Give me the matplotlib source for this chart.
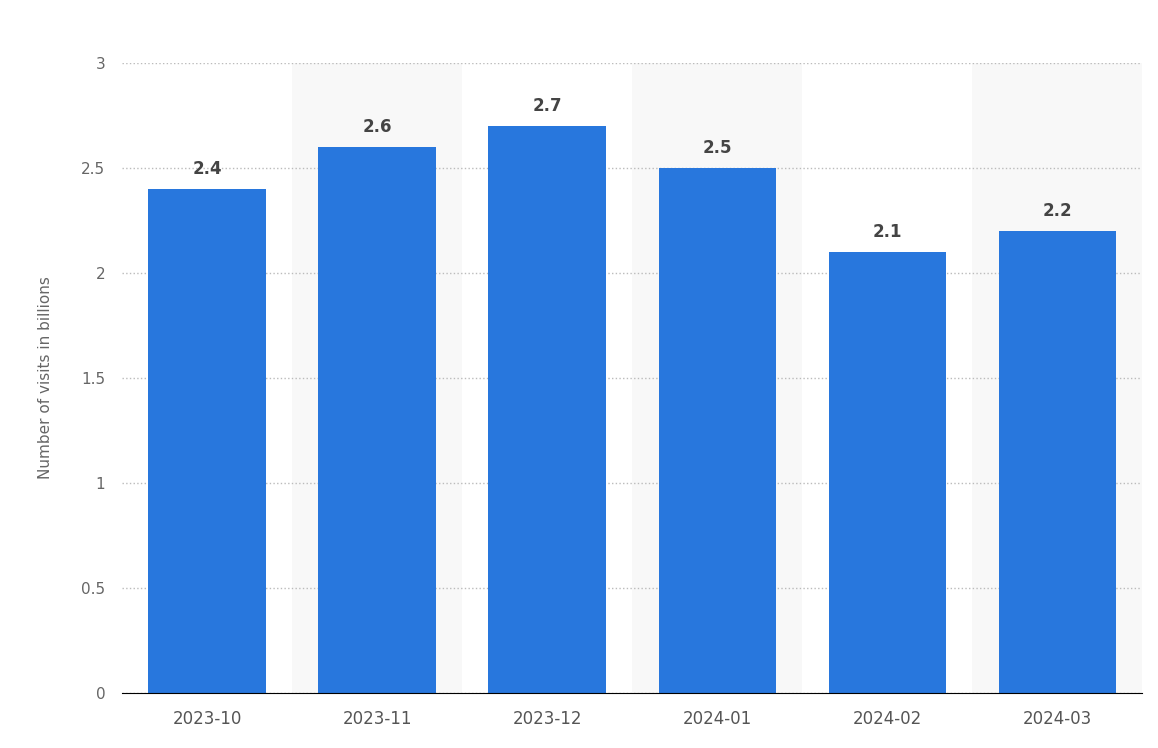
import matplotlib.pyplot as plt
import numpy as np

months = ['2023-10', '2023-11', '2023-12', '2024-01', '2024-02', '2024-03']
visits = [2.4, 2.6, 2.7, 2.5, 2.1, 2.2]
yticks = [0, 0.5, 1, 1.5, 2, 2.5, 3]
ytick_labels = ['0', '0.5', '1', '1.5', '2', '2.5', '3']

fig = plt.figure(figsize=(11.58, 7.48), dpi=100)
ax = fig.add_axes([0.1054, 0.0735, 0.881, 0.8423])

x = np.arange(len(months))
# alternating background bands
for i in x:
    if i % 2 == 1:
        ax.axvspan(i - 0.5, i + 0.5, color='#f8f8f8', zorder=0, lw=0)

ax.bar(x, visits, width=0.69, color='#2877dd', zorder=3)
for xi, v in zip(x, visits):
    ax.text(xi, v + 0.05, '{:.1f}'.format(v), ha='center', va='bottom',
            fontsize=12, fontweight='bold', color='#444444', zorder=4)

ax.set_xlim(-0.5, 5.5)
ax.set_ylim(0, 3)
ax.set_xticks(x)
ax.set_xticklabels(months, fontsize=12, color='#555555')
ax.set_yticks(yticks)
ax.set_yticklabels(ytick_labels, fontsize=11, color='#666666')
ax.tick_params(axis='both', length=0, pad=12)
ax.set_ylabel('Number of visits in billions', fontsize=11, color='#666666', labelpad=20)

ax.grid(axis='y', linestyle=':', color='#bbbbbb', linewidth=1, zorder=1)
for s in ['top', 'right', 'left']:
    ax.spines[s].set_visible(False)
ax.spines['bottom'].set_color('#000000')
ax.spines['bottom'].set_zorder(5)

fig.savefig('out.png', dpi=100)
